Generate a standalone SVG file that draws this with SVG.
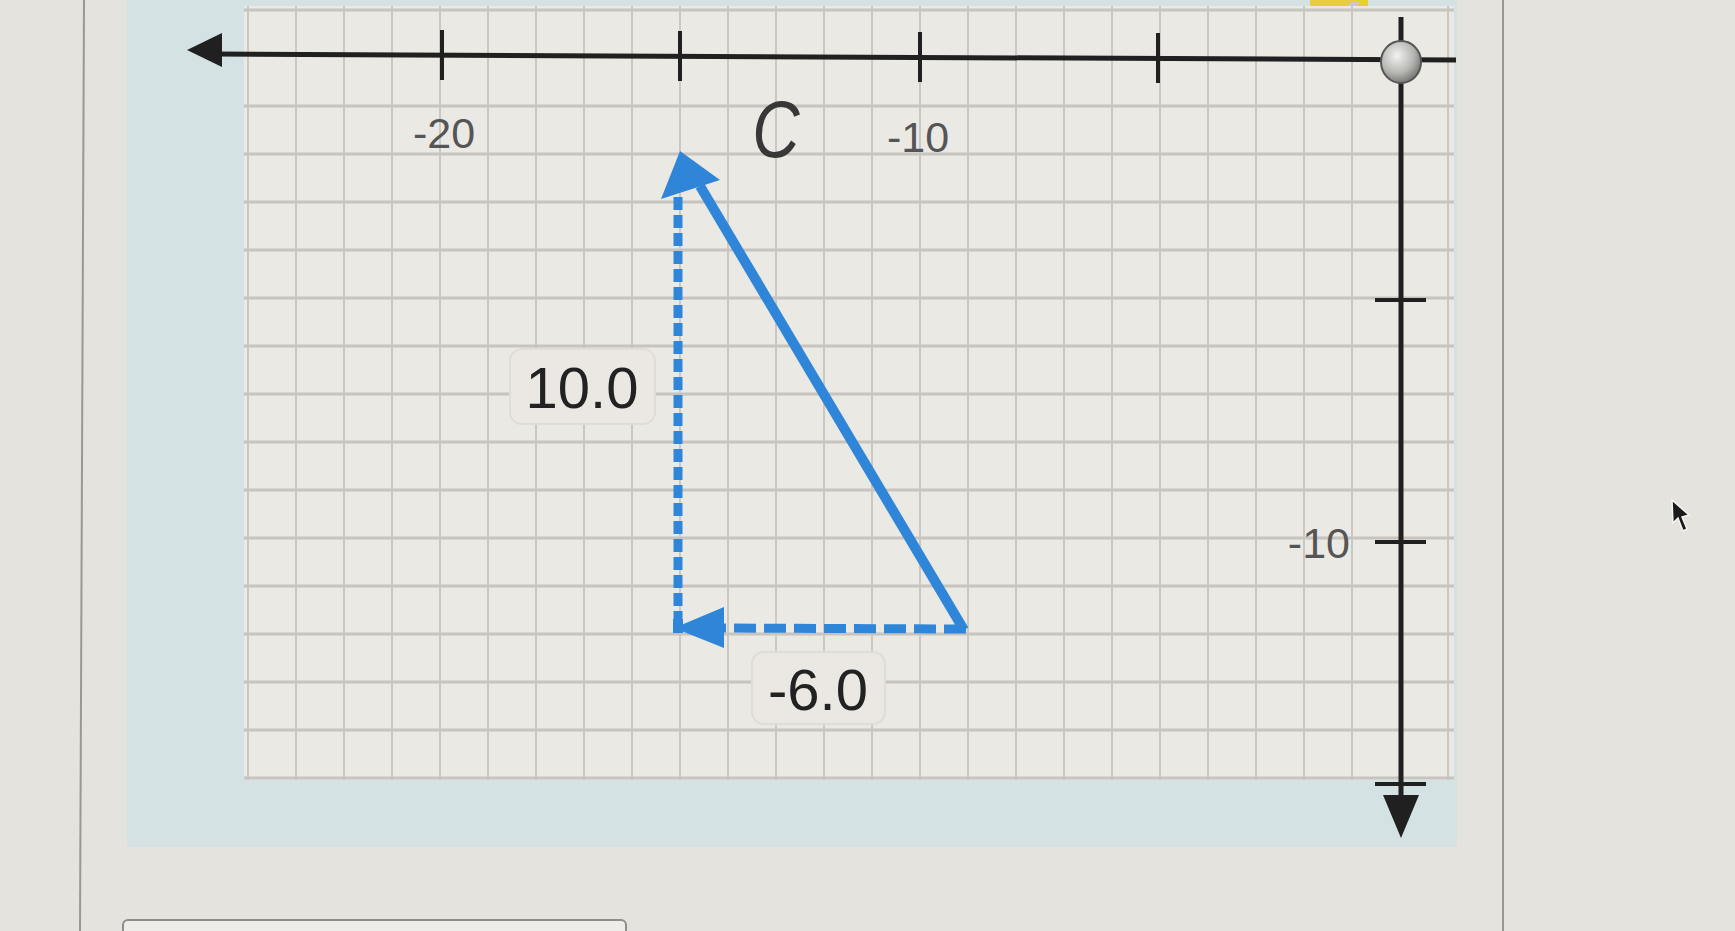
<svg xmlns="http://www.w3.org/2000/svg" width="1735" height="931" viewBox="0 0 1735 931">
  <defs>
    <style>
      .grid-v { stroke: #cbc8c3; stroke-width: 2; }
      .grid-h { stroke: #c7c4bf; stroke-width: 3; }
      .axis { stroke: #202020; stroke-width: 5; fill: none; }
      .tick { stroke: #202020; stroke-width: 4; }
      .axlabel { font-family: "Liberation Sans", Arial, sans-serif; font-size: 43px; fill: #555; }
      .vec { stroke: #2f86d8; stroke-width: 10; fill: none; }
      .dash { stroke: #2f86d8; stroke-width: 9; fill: none; }
      .vecfill { fill: #2f86d8; }
      .lblbox { fill: #ebe8e3; stroke: #e0dcd6; stroke-width: 2; }
      .lbl { font-family: "Liberation Sans", Arial, sans-serif; font-size: 58px; fill: #222; text-anchor: middle; }
    </style>
    <radialGradient id="knob" cx="0.4" cy="0.35" r="0.7">
      <stop offset="0" stop-color="#f2f2f0"/>
      <stop offset="0.6" stop-color="#b5b5b2"/>
      <stop offset="1" stop-color="#6d6d6b"/>
    </radialGradient>
  </defs>

  <!-- page background -->
  <rect x="0" y="0" width="1735" height="931" fill="#e5e3de"/>
  <line x1="84" y1="0" x2="80" y2="931" stroke="#9a9893" stroke-width="2"/>
  <line x1="1503" y1="0" x2="1503" y2="931" stroke="#9a9893" stroke-width="2"/>
  <rect x="123" y="920" width="503" height="30" rx="5" fill="#eeede9" stroke="#8f8e8a" stroke-width="2"/>

  <!-- blue panel -->
  <rect x="127" y="0" width="1330" height="847" fill="#d4e2e4"/>
  <!-- yellow tool icon -->
  <rect x="1310" y="0" width="58" height="13" fill="#e8cf3a"/>
  <path d="M1340 12 L1352 2 L1360 2 L1350 12 Z" fill="#c9c9c9"/>

  <!-- grid -->
  <g id="grid">
    <rect x="244" y="6" width="1210" height="774" fill="#ebe9e4"/>
    <g class="grid-v">
      <line x1="248" y1="6" x2="248" y2="780"/><line x1="296" y1="6" x2="296" y2="780"/>
      <line x1="344" y1="6" x2="344" y2="780"/><line x1="392" y1="6" x2="392" y2="780"/>
      <line x1="440" y1="6" x2="440" y2="780"/><line x1="488" y1="6" x2="488" y2="780"/>
      <line x1="536" y1="6" x2="536" y2="780"/><line x1="584" y1="6" x2="584" y2="780"/>
      <line x1="632" y1="6" x2="632" y2="780"/><line x1="680" y1="6" x2="680" y2="780"/>
      <line x1="728" y1="6" x2="728" y2="780"/><line x1="776" y1="6" x2="776" y2="780"/>
      <line x1="824" y1="6" x2="824" y2="780"/><line x1="872" y1="6" x2="872" y2="780"/>
      <line x1="920" y1="6" x2="920" y2="780"/><line x1="968" y1="6" x2="968" y2="780"/>
      <line x1="1016" y1="6" x2="1016" y2="780"/><line x1="1064" y1="6" x2="1064" y2="780"/>
      <line x1="1112" y1="6" x2="1112" y2="780"/><line x1="1160" y1="6" x2="1160" y2="780"/>
      <line x1="1208" y1="6" x2="1208" y2="780"/><line x1="1256" y1="6" x2="1256" y2="780"/>
      <line x1="1304" y1="6" x2="1304" y2="780"/><line x1="1352" y1="6" x2="1352" y2="780"/>
      <line x1="1448" y1="6" x2="1448" y2="780"/>
    </g>
    <g class="grid-h">
      <line x1="244" y1="10" x2="1454" y2="10"/><line x1="244" y1="106" x2="1454" y2="106"/>
      <line x1="244" y1="154" x2="1454" y2="154"/><line x1="244" y1="202" x2="1454" y2="202"/>
      <line x1="244" y1="250" x2="1454" y2="250"/><line x1="244" y1="298" x2="1454" y2="298"/>
      <line x1="244" y1="346" x2="1454" y2="346"/><line x1="244" y1="394" x2="1454" y2="394"/>
      <line x1="244" y1="442" x2="1454" y2="442"/><line x1="244" y1="490" x2="1454" y2="490"/>
      <line x1="244" y1="538" x2="1454" y2="538"/><line x1="244" y1="586" x2="1454" y2="586"/>
      <line x1="244" y1="634" x2="1454" y2="634"/><line x1="244" y1="682" x2="1454" y2="682"/>
      <line x1="244" y1="730" x2="1454" y2="730"/><line x1="244" y1="778" x2="1454" y2="778"/>
    </g>
  </g>

  <!-- axes -->
  <g id="x-axis">
    <line class="axis" x1="215" y1="54" x2="1456" y2="60"/>
    <polygon points="187,50 222,33 222,67" fill="#202020"/>
    <line class="tick" x1="442" y1="30" x2="442" y2="80"/>
    <line class="tick" x1="680" y1="31" x2="680" y2="81"/>
    <line class="tick" x1="920" y1="32" x2="920" y2="82"/>
    <line class="tick" x1="1158" y1="33" x2="1158" y2="83"/>
    <text class="axlabel" x="444" y="148" text-anchor="middle">-20</text>
    <text class="axlabel" x="918" y="152" text-anchor="middle">-10</text>
  </g>
  <g id="y-axis">
    <line class="axis" x1="1401" y1="17" x2="1401" y2="800" stroke-width="4"/>
    <polygon points="1383,795 1419,795 1401,838" fill="#202020"/>
    <line class="tick" x1="1375" y1="300" x2="1426" y2="300"/>
    <line class="tick" x1="1375" y1="542" x2="1426" y2="542"/>
    <line class="tick" x1="1375" y1="784" x2="1426" y2="784"/>
    <text class="axlabel" x="1350" y="558" text-anchor="end">-10</text>
  </g>
  <g id="origin">
    <ellipse cx="1401" cy="62" rx="20" ry="21" fill="url(#knob)" stroke="#555" stroke-width="2"/>
  </g>

  <g id="label-C">
    <text x="0" y="0" transform="translate(776 157) scale(0.82 1)" font-family="Liberation Sans, Arial, sans-serif" font-style="italic" font-size="80" fill="#383838" text-anchor="middle">C</text>
  </g>

  <!-- vectors -->
  <g id="connectors">
    <line class="dash" x1="678" y1="624" x2="678" y2="196" stroke-dasharray="13 5"/>
    <line class="dash" x1="966" y1="629" x2="720" y2="628" stroke-dasharray="22 8"/>
    <polygon class="vecfill" points="674,628 724,607 724,648"/>
    <line class="vec" x1="964" y1="630" x2="700" y2="186"/>
    <polygon class="vecfill" points="680,151 661,199 720,180"/>
    <rect x="673" y="619" width="10" height="14" class="vecfill"/>
  </g>

  <g id="label-10">
    <rect class="lblbox" x="510" y="349" width="145" height="75" rx="12"/>
    <text class="lbl" x="582" y="408">10.0</text>
  </g>
  <g id="label-neg6">
    <rect class="lblbox" x="752" y="652" width="133" height="72" rx="12"/>
    <text class="lbl" x="818" y="710">-6.0</text>
  </g>

  <!-- mouse pointer -->
  <g id="cursor">
    <polygon points="1672,500 1673,523 1678,518 1683,531 1687,529 1682,517 1689,515" fill="#1a1a1a" stroke="#f4f4f4" stroke-width="1.5"/>
  </g>
</svg>
